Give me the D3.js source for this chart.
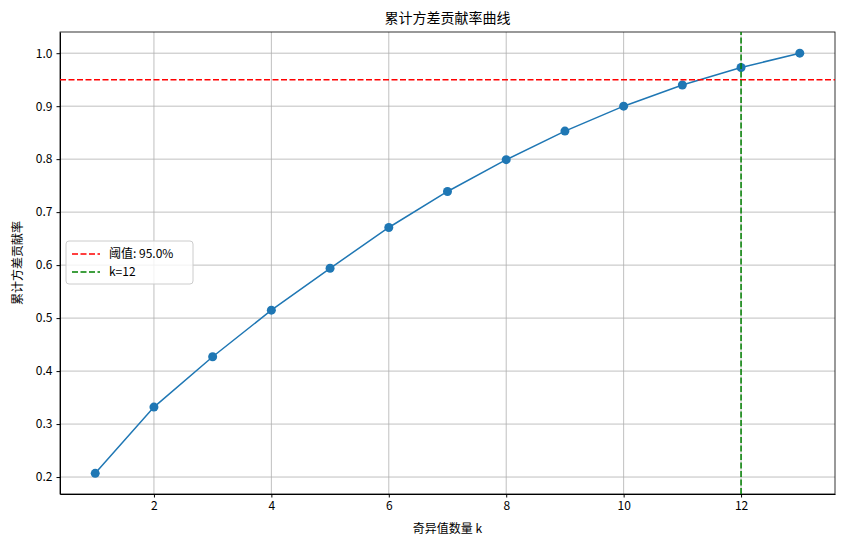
<!DOCTYPE html>
<html><head><meta charset="utf-8">
<script src="https://cdn.jsdelivr.net/npm/d3@7"></script>
<style>body{margin:0;background:#fff}text{font-family:"Noto Sans CJK SC",sans-serif}</style>
</head><body><svg id="chart"></svg>
<script>
const ks = [1, 2, 3, 4, 5, 6, 7, 8, 9, 10, 11, 12, 13];
const cumRatio = [0.207, 0.332, 0.427, 0.515, 0.594, 0.671, 0.739, 0.799, 0.853, 0.900, 0.940, 0.973, 1.0];
const xTicks = [2, 4, 6, 8, 10, 12];
const yTicks = [0.2, 0.3, 0.4, 0.5, 0.6, 0.7, 0.8, 0.9, 1.0];
const threshold = 0.95;
const chosenK = 12;

const size = { width: 844, height: 544 };
const margin = { top: 32, bottom: 50, left: 60, right: 9 };
const svg = d3.select("#chart").attr("width", size.width).attr("height", size.height);

const x = d3.scaleLinear().domain([0.4, 13.6]).range([margin.left, size.width - margin.right]);
const y = d3.scaleLinear().domain([0.168, 1.04]).range([size.height - margin.bottom, margin.top]);

// grid
const grid = svg.append("g").attr("stroke", "#b0b0b0").attr("stroke-width", 0.8);
xTicks.forEach(t => grid.append("line").attr("x1", x(t)).attr("x2", x(t)).attr("y1", y.range()[0]).attr("y2", y.range()[1]));
yTicks.forEach(t => grid.append("line").attr("y1", y(t)).attr("y2", y(t)).attr("x1", x.range()[0]).attr("x2", x.range()[1]));

svg.append("g").attr("transform", `translate(0,${size.height - margin.bottom})`)
  .call(d3.axisBottom(x).tickValues(xTicks).tickSize(3.5).tickSizeOuter(0).tickPadding(4))
  .call(g => g.selectAll("text").style("font-size", "12px").attr("fill", "#000"));
svg.append("g").attr("transform", `translate(${margin.left},0)`)
  .call(d3.axisLeft(y).tickValues(yTicks).tickFormat(d3.format(".1f")).tickSize(3.5).tickSizeOuter(0).tickPadding(4))
  .call(g => g.selectAll("text").style("font-size", "12px").attr("fill", "#000"));
svg.append("rect").attr("x", margin.left).attr("y", margin.top)
  .attr("width", x.range()[1] - margin.left).attr("height", y.range()[0] - margin.top)
  .attr("fill", "none").attr("stroke", "#000").attr("stroke-width", 0.8);

const data = ks.map((k, i) => ({ k, v: cumRatio[i] }));
svg.append("path").datum(data)
  .attr("d", d3.line().x(d => x(d.k)).y(d => y(d.v)))
  .attr("fill", "none").attr("stroke", "#1f77b4").attr("stroke-width", 1.5);
svg.append("g").selectAll("circle").data(data).join("circle")
  .attr("cx", d => x(d.k)).attr("cy", d => y(d.v)).attr("r", 4.5).attr("fill", "#1f77b4");

svg.append("line").attr("x1", x.range()[0]).attr("x2", x.range()[1]).attr("y1", y(threshold)).attr("y2", y(threshold))
  .attr("stroke", "red").attr("stroke-width", 1.5).attr("stroke-dasharray", "6,2.5");
svg.append("line").attr("x1", x(chosenK)).attr("x2", x(chosenK)).attr("y1", y.range()[0]).attr("y2", y.range()[1])
  .attr("stroke", "green").attr("stroke-width", 1.5).attr("stroke-dasharray", "6,2.5");

// legend
const lg = svg.append("g").attr("transform", "translate(66,241)");
lg.append("rect").attr("width", 127).attr("height", 43).attr("rx", 3).attr("fill", "#fff").attr("fill-opacity", 0.8).attr("stroke", "#ccc");
[["阈值: 95.0%", "red"], [`k=${chosenK}`, "green"]].forEach(([t, c], i) => {
  const yy = 13 + i * 18;
  lg.append("line").attr("x1", 6).attr("x2", 34).attr("y1", yy).attr("y2", yy).attr("stroke", c).attr("stroke-width", 1.5).attr("stroke-dasharray", "6,2.5");
  lg.append("text").attr("x", 43).attr("y", yy + 4).text(t).style("font-size", "12px");
});

svg.append("text").attr("x", (margin.left + x.range()[1]) / 2).attr("y", 23).attr("text-anchor", "middle").style("font-size", "14px").text("累计方差贡献率曲线");
svg.append("text").attr("x", (margin.left + x.range()[1]) / 2).attr("y", 533).attr("text-anchor", "middle").style("font-size", "12px").text("奇异值数量 k");
svg.append("text").attr("transform", `translate(22,${(margin.top + y.range()[0]) / 2}) rotate(-90)`).attr("text-anchor", "middle").style("font-size", "12px").text("累计方差贡献率");
</script></body></html>
